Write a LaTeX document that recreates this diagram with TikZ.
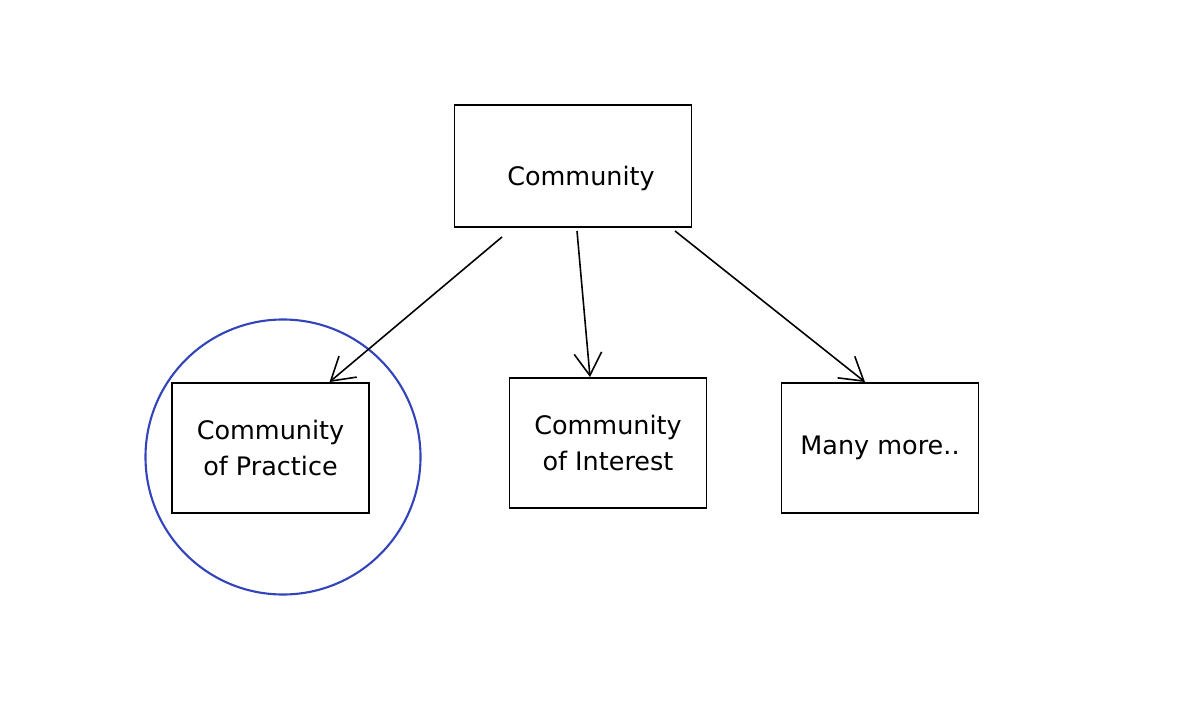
\documentclass[tikz,border=0pt]{standalone}
\usepackage{fontspec}
\setmainfont{DejaVu Sans}
\usetikzlibrary{arrows.meta,positioning,calc}
\definecolor{ringblue}{HTML}{3344BB}
\tikzset{
    %Define standard arrow tip
    >={Straight Barb[length=4.5mm,width=5.5mm]},
    %Define style for boxes
    topbox/.style={
           rectangle,
           draw=black, line width=1.1pt,
           minimum width=4.74cm,
           minimum height=2.44cm},
    leafbox/.style={
           rectangle,
           draw=black, line width=1.1pt,
           minimum width=3.94cm,
           minimum height=2.6cm,
           align=center,
           font=\fontsize{14.5}{20}\selectfont},
    ring/.style={
           circle,
           draw=ringblue, line width=1.2pt,
           minimum size=5.5cm},
    % Define arrow style
    pil/.style={
           ->,
           line width=0.9pt}
}
\begin{document}
\begin{tikzpicture}
\useasboundingbox (0,0) rectangle (24,-14.56);
 %nodes
\node[topbox, label={[font=\fontsize{14.5}{20}\selectfont, xshift=0.16cm, yshift=-0.24cm]center:Community}] (top) at (11.46,-3.32) {};
\node[leafbox] (cop) at (5.41,-8.96) {Community\\of Practice};
\node[leafbox] (coi) at (12.16,-8.86) {Community\\of Interest};
\node[leafbox] (many) at (17.6,-8.96) {Many more..};
\node[ring] (circ) at (5.66,-9.14) {};
 %arrows
\draw[pil] ($(top.south)+(-1.42,-0.18)$) -- ($(cop.north)+(1.18,0)$);
\draw[pil] ($(top.south)+(0.08,-0.06)$) -- ($(coi.north)+(-0.36,0)$);
\draw[pil] ($(top.south)+(2.04,-0.06)$) -- ($(many.north)+(-0.3,0)$);
\end{tikzpicture}
\end{document}
